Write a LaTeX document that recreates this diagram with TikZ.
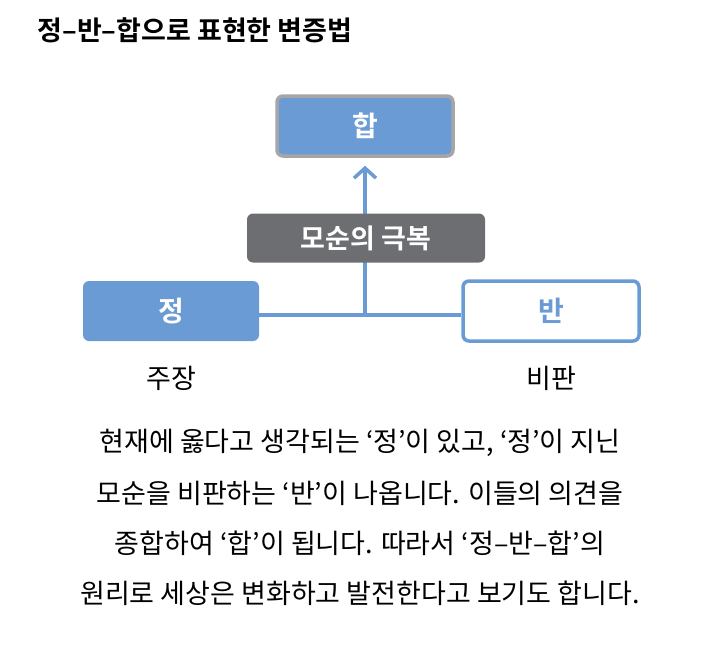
\documentclass[tikz,border=0pt]{standalone}
\usepackage{fontspec}
\setmainfont{Noto Sans CJK KR}
\newfontfamily\kbold{Noto Sans CJK KR Bold}
\usetikzlibrary{arrows.meta}
\definecolor{boxblue}{HTML}{6A9BD4}
\definecolor{boxgray}{HTML}{6D6E71}
\tikzset{
  stage/.style = {rounded corners=6pt, minimum width=176pt, minimum height=60pt,
    font=\kbold\fontsize{28}{32}\selectfont},
  body/.style = {font=\fontsize{27}{32}\selectfont}
}
\begin{document}
\begin{tikzpicture}[x=1pt,y=-1pt]
  \useasboundingbox (0,0) rectangle (705,645);
  \node[anchor=west,font=\kbold\fontsize{27}{30}\selectfont] (title) at (34,30) {정–반–합으로 표현한 변증법};
  \node[stage,fill=boxblue,draw=gray!70,line width=3.5pt,text=white] (hap) at (365,126) {합};
  \node[stage,fill=boxblue,text=white] (jeong) at (171,311) {정};
  \node[stage,fill=white,draw=boxblue,line width=3.5pt,text=boxblue] (ban) at (551,311) {반};
  \coordinate (mid) at (365,315);
  \coordinate (tip) at ([yshift=-8pt]hap.south);
  \draw[boxblue,line width=3.5pt] (jeong.east |- mid) -- (ban.west |- mid);
  \draw[boxblue,line width=3.5pt,-{Straight Barb[length=10pt,width=22pt]}] (mid) -- (tip);
  \node[fill=boxgray,rounded corners=6pt,minimum width=238pt,minimum height=49pt,
    text=white,font=\kbold\fontsize{27}{30}\selectfont] (overcome) at (366,238) {모순의 극복};
  \node[font=\fontsize{27}{30}\selectfont] (claim) at (171,378) {주장};
  \node[font=\fontsize{27}{30}\selectfont] (critic) at (551,378) {비판};
  \node[body] (l1) at (360,443) {현재에 옳다고 생각되는 ‘정’이 있고, ‘정’이 지닌};
  \node[body] (l2) at (360,493) {모순을 비판하는 ‘반’이 나옵니다. 이들의 의견을};
  \node[body] (l3) at (360,543) {종합하여 ‘합’이 됩니다. 따라서 ‘정–반–합’의};
  \node[body] (l4) at (360,593) {원리로 세상은 변화하고 발전한다고 보기도 합니다.};
\end{tikzpicture}
\end{document}
